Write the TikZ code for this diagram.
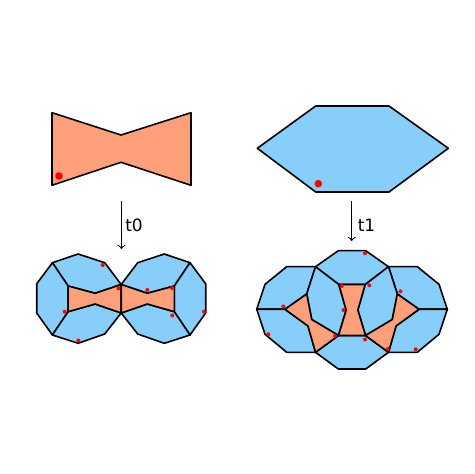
\documentclass[tikz,border=0pt]{standalone}
\usepackage{fontspec}
\setmainfont{DejaVu Sans}
\usetikzlibrary{arrows}

\tikzset{
  bowtile/.style={fill={rgb,255:red,255;green,160;blue,122}, draw=black, line width=0.8pt, line join=round},
  hextile/.style={fill={rgb,255:red,135;green,206;blue,250}, draw=black, line width=0.8pt, line join=round},
  mark dot/.style={fill=red, draw=none},
}

\begin{document}
\begin{tikzpicture}[x=0.5pt, y=-0.5pt]
			\fontsize{8.5}{10}\selectfont
			\useasboundingbox (0,0) rectangle (474,474);
			% prototiles
			\filldraw [bowtile] (52,112.7) -- (121,135) -- (191,112.7) -- (191,185.3) -- (121,162.3) -- (52,185.3) -- cycle;
			\fill [mark dot] (59,176) circle [radius=1.9pt];
			\filldraw [hextile] (257.3,148.3) -- (315.7,106) -- (389,106) -- (448.3,148.3) -- (389,192) -- (315.7,192) -- cycle;
			\fill [mark dot] (318.3,183.7) circle [radius=1.9pt];

			% substitution arrows
			\coordinate (t0top) at (121.5,201);
			\coordinate (t0end) at (121.5,249);
			\coordinate (t1top) at (351.7,201);
			\coordinate (t1end) at (351.7,241);
			\draw [->, line width=0.55pt] (t0top) -- (t0end);
			\draw [->, line width=0.55pt] (t1top) -- (t1end);
			\node (t0) at (134,225) {t0};
			\node (t1) at (366.5,225) {t1};

			% t0 patch
			\filldraw [hextile] (121.2,284.5) -- (104.7,262.7) -- (78.1,254) -- (52.4,262.7) -- (68.1,286) -- (95.1,293.3) -- cycle;
			\filldraw [hextile] (52.4,262.7) -- (36.7,283.8) -- (36.7,313) -- (52.4,335) -- (68.1,311.7) -- (68.1,286) -- cycle;
			\filldraw [hextile] (121.2,313) -- (95.1,304) -- (68.1,311.7) -- (52.4,335) -- (78.1,343.3) -- (104.7,334) -- cycle;
			\filldraw [bowtile] (121.2,284.5) -- (95.1,293.3) -- (68.1,286) -- (68.1,311.7) -- (95.1,304) -- (121.2,313) -- cycle;
			\filldraw [hextile] (121.2,284.5) -- (137.7,262.7) -- (164.3,254) -- (190,262.7) -- (174.3,286) -- (147.3,293.3) -- cycle;
			\filldraw [hextile] (190,262.7) -- (205.7,283.8) -- (205.7,313) -- (190,335) -- (174.3,311.7) -- (174.3,286) -- cycle;
			\filldraw [hextile] (121.2,313) -- (147.3,304) -- (174.3,311.7) -- (190,335) -- (164.3,343.3) -- (137.7,334) -- cycle;
			\filldraw [bowtile] (121.2,284.5) -- (147.3,293.3) -- (174.3,286) -- (174.3,311.7) -- (147.3,304) -- (121.2,313) -- cycle;
			\foreach \x/\y in {102.7/265, 118.5/288.3, 64.7/311.7, 78.3/340.5, 147.3/290, 172/288, 172.3/315.5, 204/311.7}
				\fill [mark dot] (\x,\y) circle [radius=1pt];

			% t1 patch
			\coordinate (p1) at (256.7,309.3);
			\coordinate (p2) at (265,284.3);
			\coordinate (p3) at (286.7,266.7);
			\coordinate (p4) at (315.5,266.7);
			\coordinate (p5) at (338.3,250.7);
			\coordinate (p6) at (365.7,250.7);
			\coordinate (p7) at (388.5,266.7);
			\coordinate (p8) at (417.3,266.7);
			\coordinate (p9) at (439,284.3);
			\coordinate (p10) at (447.3,309.3);
			\coordinate (p11) at (439,334.3);
			\coordinate (p12) at (417.3,352.3);
			\coordinate (p13) at (388.5,352.3);
			\coordinate (p14) at (365.7,369);
			\coordinate (p15) at (338.3,369);
			\coordinate (p16) at (315.5,352.3);
			\coordinate (p17) at (286.7,352.3);
			\coordinate (p18) at (265,334.3);
			\coordinate (htl) at (338.8,284.5);
			\coordinate (htr) at (365.2,284.5);
			\coordinate (hwl) at (346.2,310);
			\coordinate (hwr) at (357.8,310);
			\coordinate (hbl) at (338.5,335.5);
			\coordinate (hbr) at (365.5,335.5);
			\coordinate (ltop) at (306.7,294);
			\coordinate (ltip) at (285,309.3);
			\coordinate (lna) at (311.7,319.5);
			\coordinate (lnb) at (308,326);
			\coordinate (rtop) at (397.3,294);
			\coordinate (rtip) at (419,309.3);
			\coordinate (rna) at (392.3,319.5);
			\coordinate (rnb) at (396,326);

			\filldraw [hextile] (p4) -- (p5) -- (p6) -- (p7) -- (htr) -- (htl) -- cycle;
			\filldraw [hextile] (p16) -- (hbl) -- (hbr) -- (p13) -- (p14) -- (p15) -- cycle;
			\filldraw [hextile] (p1) -- (p2) -- (p3) -- (p4) -- (ltop) -- (ltip) -- cycle;
			\filldraw [hextile] (p1) -- (ltip) -- (lnb) -- (p16) -- (p17) -- (p18) -- cycle;
			\filldraw [hextile] (p4) -- (htl) -- (hwl) -- (hbl) -- (lna) -- (ltop) -- cycle;
			\filldraw [hextile] (p10) -- (p9) -- (p8) -- (p7) -- (rtop) -- (rtip) -- cycle;
			\filldraw [hextile] (p10) -- (rtip) -- (rnb) -- (p13) -- (p12) -- (p11) -- cycle;
			\filldraw [hextile] (p7) -- (htr) -- (hwr) -- (hbr) -- (rna) -- (rtop) -- cycle;
			\filldraw [bowtile] (htl) -- (htr) -- (hwr) -- (hbr) -- (hbl) -- (hwl) -- cycle;
			\filldraw [bowtile] (ltip) -- (ltop) -- (lna) -- (hbl) -- (p16) -- (lnb) -- cycle;
			\filldraw [bowtile] (rtip) -- (rtop) -- (rna) -- (hbr) -- (p13) -- (rnb) -- cycle;
			\foreach \x/\y in {365/253.3, 341.7/286, 369.3/285.3, 283.3/306.5, 343.5/310, 400.5/291.3, 268.3/334.3, 335/336, 365/339.5, 387.7/349, 415.7/349.3}
				\fill [mark dot] (\x,\y) circle [radius=1pt];
		\end{tikzpicture}
\end{document}
